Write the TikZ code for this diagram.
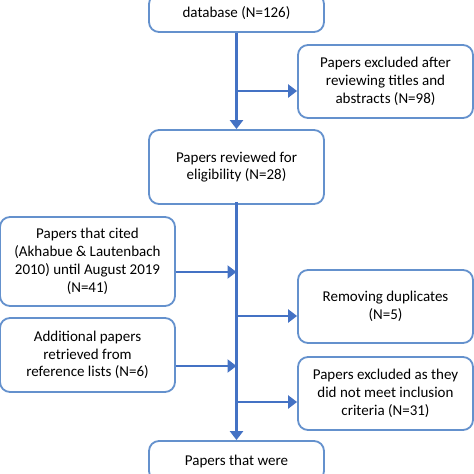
\documentclass[tikz,border=0pt]{standalone}
\usepackage{fontspec}
\setmainfont{Carlito}
\usetikzlibrary{arrows.meta}
\definecolor{boxc}{RGB}{100,145,205}
\definecolor{linec}{RGB}{68,114,196}
\begin{document}
\begin{tikzpicture}[x=1pt,y=-1pt,
  box/.style={draw=boxc,line width=1.8pt,rounded corners=10pt,fill=white,
    minimum width=175pt,align=center,inner sep=0pt,
    font=\fontsize{15}{17.8}\selectfont},
  conn/.style={draw=linec,line width=2.6pt},
  arr/.style={conn,-{Triangle[length=9pt,width=13pt]}}]
\useasboundingbox (0,0) rectangle (474,474);
\begin{scope}
\clip (-2,0) rectangle (476,474);
\node[box,minimum height=38pt] (db) at (236.5,13) {database (N=126)};
\node[box,minimum height=73pt] (ex1) at (385.5,81.5) {Papers excluded after\\reviewing titles and\\abstracts (N=98)};
\node[box,minimum height=74pt] (rev) at (236.5,167) {Papers reviewed for\\eligibility (N=28)};
\node[box,minimum height=89pt] (cit) at (87.5,261.5) {Papers that cited\\(Akhabue \& Lautenbach\\2010) until August 2019\\(N=41)};
\node[box,minimum height=73pt] (dup) at (385.5,306.5) {Removing duplicates\\(N=5)};
\node[box,minimum height=74pt] (add) at (87.5,355) {Additional papers\\retrieved from\\reference lists (N=6)};
\node[box,minimum height=73pt] (ex2) at (385.5,393.5) {Papers excluded as they\\did not meet inclusion\\criteria (N=31)};
\node[box,minimum height=40pt] (fin) at (236.5,461) {Papers that were};
\end{scope}
\coordinate (j1) at (236.5,91);
\coordinate (j2) at (236.5,272);
\coordinate (j3) at (236.5,316);
\coordinate (j4) at (236.5,366);
\coordinate (j5) at (236.5,402);
\draw[arr] (db.south) -- (rev.north);
\draw[arr] (j1) -- (ex1.west |- j1);
\draw[conn] ([yshift=3pt]rev.south) -- (j2);
\draw[arr] (j2) -- (fin.north);
\draw[arr] (cit.east |- j2) -- (j2);
\draw[arr] (add.east |- j4) -- (j4);
\draw[arr] (j3) -- (dup.west |- j3);
\draw[arr] (j5) -- (ex2.west |- j5);
\end{tikzpicture}
\end{document}
